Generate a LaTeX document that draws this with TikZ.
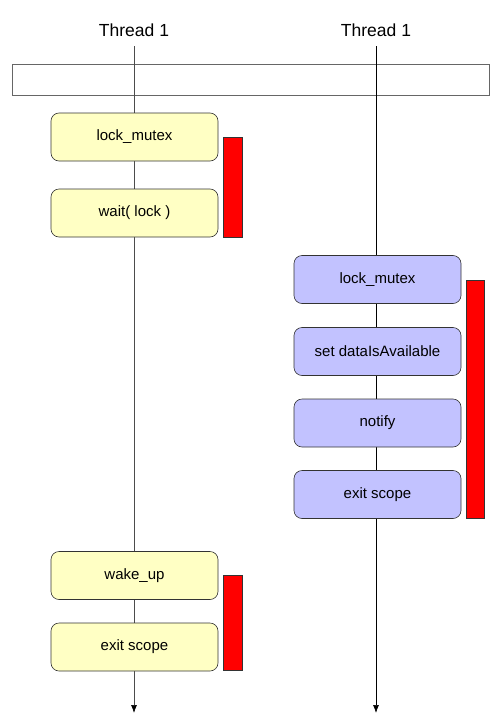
\documentclass[tikz,border=0pt]{standalone}
\usepackage{fontspec}
\setmainfont{Liberation Sans}
\usetikzlibrary{arrows.meta}
\definecolor{yel}{HTML}{FFFFC4}
\definecolor{blu}{HTML}{C2C2FF}
\tikzset{
  stepbox/.style={draw=black!80, line width=0.6pt, rounded corners=8pt, minimum width=167pt, minimum height=48pt, inner sep=0pt, font=\fontsize{15}{17}\selectfont},
  ybox/.style={stepbox, fill=yel},
  bbox/.style={stepbox, fill=blu},
  lockbar/.style={draw=black!80, line width=0.6pt, fill=red, inner sep=0pt, minimum width=19pt},
  lifeline/.style={line width=0.7pt, -{Latex[length=8pt,width=6pt,black]}},
  title/.style={font=\fontsize{17.5}{20}\selectfont}
}
\begin{document}
\begin{tikzpicture}[x=1pt,y=-1pt]
\useasboundingbox (0,0) rectangle (496,723);
% titles
\node[title] (h1) at (134,30) {Thread 1};
\node[title] (h2) at (376,30) {Thread 1};
\coordinate (l1s) at (134,46);
\coordinate (l1e) at (134,713);
\coordinate (l2s) at (376,46);
\coordinate (l2e) at (376,713);
% top bar
\node[draw=black!60, line width=0.7pt, minimum width=477pt, minimum height=31pt, inner sep=0pt] (bar) at (250.5,79.5) {};
% lifelines
\draw[lifeline, black!70] (l1s) -- (l1e);
\draw[lifeline, black] (l2s) -- (l2e);
% left thread boxes
\node[ybox] (a1) at (134.5,137) {lock\_mutex};
\node[ybox] (a2) at (134.5,213) {wait( lock )};
\node[ybox] (a3) at (134.5,575.5) {wake\_up};
\node[ybox] (a4) at (134.5,647) {exit scope};
% right thread boxes
\node[bbox] (b1) at (377.5,279.5) {lock\_mutex};
\node[bbox] (b2) at (377.5,351.5) {set dataIsAvailable};
\node[bbox] (b3) at (377.5,423) {notify};
\node[bbox] (b4) at (377.5,494.5) {exit scope};
% lock bars
\node[lockbar, minimum height=100pt] (r1) at (232.5,187) {};
\node[lockbar, minimum height=95pt] (r2) at (232.5,622.5) {};
\node[lockbar, minimum height=238pt, minimum width=18pt] (r3) at (475,399) {};
\end{tikzpicture}
\end{document}
